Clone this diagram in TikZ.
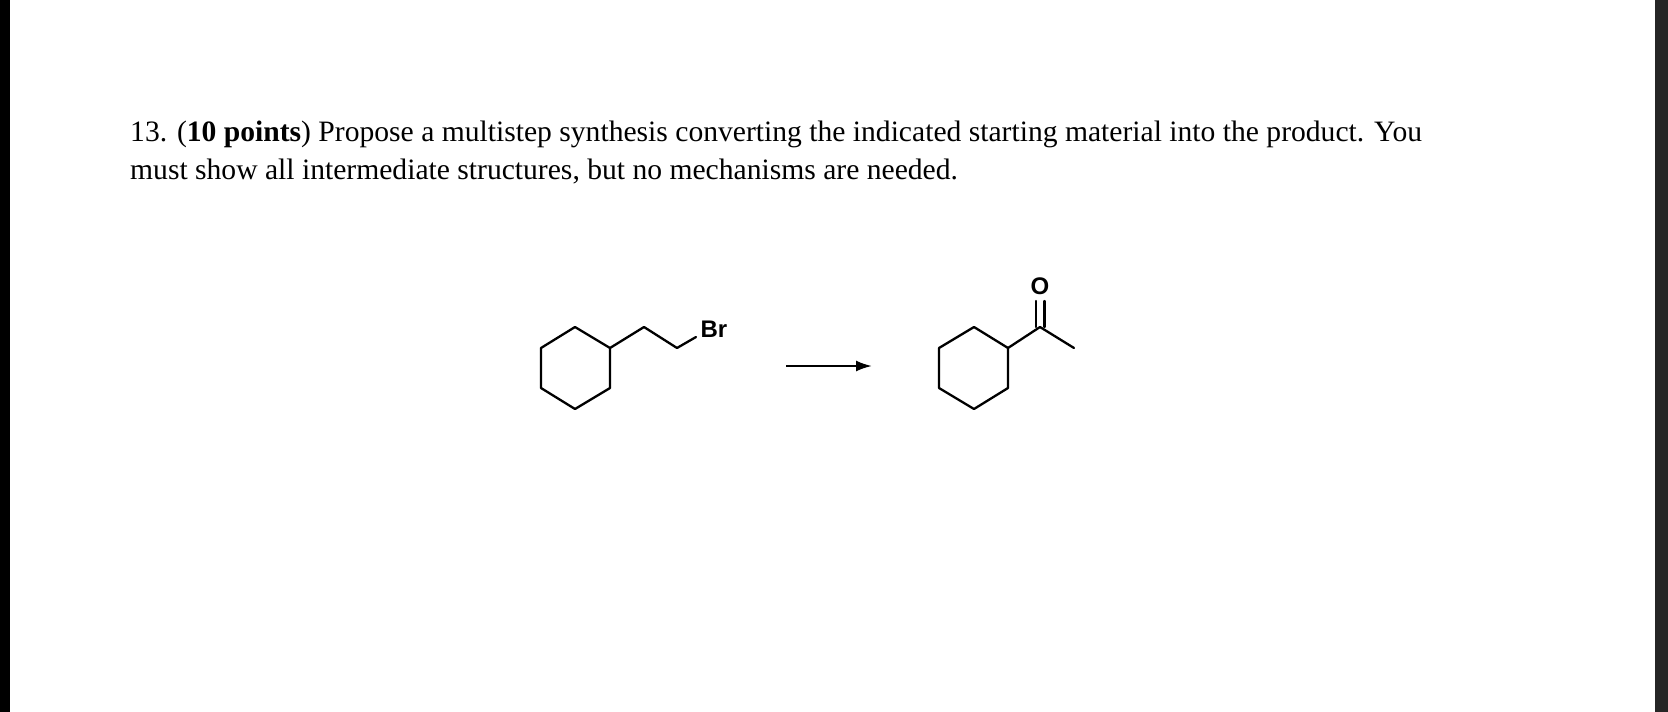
\documentclass[tikz,border=0pt]{standalone}
\usepackage{fontspec}
\usetikzlibrary{arrows.meta}
\setmainfont{Liberation Serif}
\newfontfamily\chemfont{Liberation Sans}
\begin{document}
\begin{tikzpicture}[x=1pt,y=-1pt,bond/.style={line width=2.3pt,line join=round,line cap=round},
  atom/.style={inner sep=0,font=\chemfont\bfseries\fontsize{24}{24}\selectfont},
  body/.style={anchor=base west,inner sep=0,font=\fontsize{29.6}{38}\selectfont}]
\useasboundingbox (0,0) rectangle (1668,712);
\fill[black] (0,0) rectangle (10,712);
\fill[black!85] (1655,0) rectangle (1668,712);
\node[body] (t1) at (130,141) {13. (\textbf{10 points}) Propose a multistep synthesis converting the indicated starting material into the product. You};
\node[body] (t2) at (130,179) {must show all intermediate structures, but no mechanisms are needed.};
% starting material
\draw[bond] (575,327) -- (610,348) -- (610,388) -- (575,409) -- (541,388) -- (541,348) -- cycle;
\node[atom] (br) at (714,329) {Br};
\draw[bond] (610,348) -- (644,327) -- (677,348) -- (696,337);
% arrow
\coordinate (a1) at (786,366);
\coordinate (a2) at (872,366);
\draw[line width=2.2pt,-{Latex[length=16pt,width=11pt]}] (a1) -- (a2);
% product
\draw[bond] (974,327) -- (1008,348) -- (1008,388) -- (974,409) -- (939,388) -- (939,348) -- cycle;
\node[atom] (o) at (1040,286) {O};
\draw[bond] (1008,348) -- (1040,327) -- (1074,348);
\draw[bond] (1036,327) -- (1036,301);
\draw[bond] (1044.5,327) -- (1044.5,301);
\end{tikzpicture}
\end{document}
